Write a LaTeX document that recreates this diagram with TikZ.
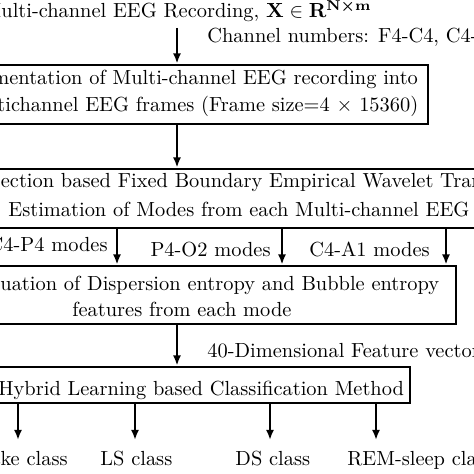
\documentclass[tikz,border=0pt]{standalone}
\usepackage{amsmath,amssymb}
\usepackage{tikz}
\usetikzlibrary{arrows.meta}
\tikzset{
  stage/.style={draw=black,line width=1.4pt,rectangle,inner sep=0pt},
  arr/.style={-{Latex[length=5pt,width=4pt]},line width=1pt},
  txt/.style={inner sep=0pt,anchor=base west},
  txte/.style={inner sep=0pt,anchor=base east},
}
\begin{document}
\begin{tikzpicture}[x=0.49pt,y=-0.49pt]
\useasboundingbox (0,0) rectangle (474,474);
\clip (0,0) rectangle (474,474);
% input recording
\node[txt] (rec) at (1,18) {\llap{M}ulti-channel EEG Recording, $\mathbf{X}\in\mathbf{R}^{\mathbf{N}\boldsymbol{\times}\mathbf{m}}$};
\node[txt] (chn) at (207,43) {Channel numbers: F4-C4, C4-P4, P4-O2, C4-A1};
\coordinate (recout) at (177,28);
% segmentation
\node[stage,minimum width=502*0.49pt,minimum height=59*0.49pt] (seg) at (177,94.5) {};
\node[txt] (seg1) at (-8,85) {\llap{Seg}mentation of Multi-channel EEG recording into};
\node[txt] (seg2) at (-3,112) {\llap{mul}tichannel EEG frames (Frame size=4 $\times$ 15360)};
% fbewt
\node[stage,minimum width=700*0.49pt,minimum height=59*0.49pt] (fbewt) at (177,198.5) {};
\node[txt] (fb1) at (0.5,188) {\llap{Multivariate Proj}ection based Fixed Boundary Empirical Wavelet Transform};
\node[txt] (fb2) at (8,217) {Estimation of Modes from each Multi-channel EEG frame};
\coordinate (cP4) at (117,0);
\coordinate (cO2) at (282,0);
\coordinate (cA1) at (446,0);
\node[txte] (lP4) at (108,252) {C4-P4 modes};
\node[txte] (lO2) at (271,257) {P4-O2 modes};
\node[txte] (lA1) at (430,257) {C4-A1 modes};
% features
\node[stage,minimum width=558*0.49pt,minimum height=58*0.49pt] (feat) at (177,295) {};
\node[txt] (ev1) at (0,290) {\llap{Eval}uation of Dispersion entropy and Bubble entropy};
\node[txt] (ev2) at (72,316) {features from each mode};
\node[txt] (dim) at (207,357) {40-Dimensional Feature vector};
% classifier
\node[stage,minimum width=466*0.49pt,minimum height=36*0.49pt] (cls) at (177,385) {};
\node[txt] (hyb) at (-2,395) {Hybrid Learning based Classification Method};
\coordinate (tWk) at (18,440);
\coordinate (tLS) at (135,440);
\coordinate (tDS) at (270,440);
\coordinate (tREM) at (376,440);
\node[txte] (wk) at (68,465) {Wake class};
\node[txt] (ls) at (100,465) {LS class};
\node[txt] (ds) at (235,465) {DS class};
\node[txt] (rem) at (347,465) {REM-sleep class};
% connectors
\draw[arr] (recout) -- (seg.north);
\draw[arr] (seg.south) -- (fbewt.north);
\draw[arr] (fbewt.south -| cP4) -- (feat.north -| cP4);
\draw[arr] (fbewt.south -| cO2) -- (feat.north -| cO2);
\draw[arr] (fbewt.south -| cA1) -- (feat.north -| cA1);
\draw[arr] (feat.south) -- (cls.north);
\draw[arr] (cls.south -| tWk) -- (tWk);
\draw[arr] (cls.south -| tLS) -- (tLS);
\draw[arr] (cls.south -| tDS) -- (tDS);
\draw[arr] (cls.south -| tREM) -- (tREM);
\end{tikzpicture}
\end{document}
